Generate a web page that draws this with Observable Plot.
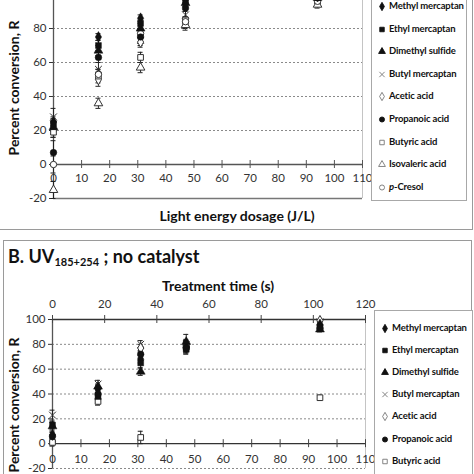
<!DOCTYPE html>
<html>
<head>
<meta charset="utf-8">
<script src="https://cdn.jsdelivr.net/npm/d3@7"></script>
<script src="https://cdn.jsdelivr.net/npm/@observablehq/plot@0.6"></script>
<style>
  body { margin: 0; width: 474px; height: 474px; overflow: hidden; position: relative; background: #fff;
         font-family: Lato, "DejaVu Sans", sans-serif; color: #111; }
  .box { position: absolute; border: 1.5px solid #9a9a9a; box-sizing: border-box; }
  .legend { position: absolute; border: 1px solid #a8a8a8; background: #fff; box-sizing: border-box; }
  .entry { position: absolute; font-weight: 700; font-size: 9.5px; letter-spacing: -0.15px; white-space: nowrap; line-height: 12px; }
  .entry svg { position: absolute; top: 0; }
  .atitle { position: absolute; font-weight: 700; font-size: 14px; white-space: nowrap; transform: translate(-50%, -50%); }
  .ytitle { position: absolute; font-weight: 700; font-size: 14px; white-space: nowrap; transform: translate(-50%, -50%) rotate(-90deg); }
  .ptitle { position: absolute; font-weight: 700; font-size: 18px; white-space: nowrap; }
  .ptitle sub { font-size: 11px; vertical-align: -3px; }
  .plot { position: absolute; }
</style>
</head>
<body>
<script>
// ---- shared axes ----
const dosage = [0, 16, 31, 47, 94];                      // light energy dosage (J/L)
const dosageTicks = [0, 10, 20, 30, 40, 50, 60, 70, 80, 90, 100, 110];
const timeTicks = [0, 20, 40, 60, 80, 100, 120];         // treatment time (s)
const dosageMax = 110, timeMax = 120;
const yTicks = [-20, 0, 20, 40, 60, 80, 100];

const compounds = ["Methyl mercaptan", "Ethyl mercaptan", "Dimethyl sulfide", "Butyl mercaptan",
                   "Acetic acid", "Propanoic acid", "Butyric acid", "Isovaleric acid", "p-Cresol"];
const markerSymbols = ["diamond", "square", "triangle", "times", "diamond", "circle", "square", "triangle", "circle"];
const markerFilled  = [true, true, true, false, false, true, false, false, false];

// ---- panel A: percent conversion R ----
const aMethylMercaptan = [25, 75, 86, 97, 99];
const aEthylMercaptan  = [24, 70, 83, 96, 99];
const aDimethylSulfide = [22, 67, 80, 95, 98];
const aButylMercaptan  = [28, 56, 73, 88, 97];
const aAceticAcid      = [20, 50, 72, 83, 97];
const aPropanoicAcid   = [7, 63, 75, 92, 98];
const aButyricAcid     = [19, 52, 63, 85, 96];
const aIsovalericAcid  = [-15, 36, 57, 82, 94];
const aPCresol         = [0, 53, 77, 84, 96];
const aErrors = [
  [3, 2, 2, 2, 1], [3, 3, 2, 2, 1], [4, 3, 3, 2, 1], [5, 4, 3, 3, 1], [4, 4, 3, 3, 1],
  [7, 3, 3, 2, 1], [3, 4, 3, 2, 1], [5, 3, 3, 3, 2], [5, 3, 3, 2, 1]
];

// ---- panel B: UV185+254, no catalyst ----
const bMethylMercaptan = [7, 44, 68, 78, 96];
const bEthylMercaptan  = [15, 38, 65, 76, 94];
const bDimethylSulfide = [14, 46, 58, 82, 92];
const bButylMercaptan  = [23, 48, 80, 80, 98];
const bAceticAcid      = [2, 36, 77, 79, 99];
const bPropanoicAcid   = [6, 40, 72, 77, 93];
const bButyricAcid     = [1, 34, 5, 78, 37];
const bErrors = [
  [3, 3, 3, 5, 2], [3, 3, 4, 4, 2], [3, 2, 3, 6, 2], [4, 3, 3, 4, 1],
  [3, 3, 3, 4, 1], [3, 3, 3, 4, 2], [3, 3, 5, 4, 2]
];

const aSeries = [aMethylMercaptan, aEthylMercaptan, aDimethylSulfide, aButylMercaptan, aAceticAcid,
                 aPropanoicAcid, aButyricAcid, aIsovalericAcid, aPCresol];
const bSeries = [bMethylMercaptan, bEthylMercaptan, bDimethylSulfide, bButylMercaptan, bAceticAcid,
                 bPropanoicAcid, bButyricAcid];

function rows(series, errors) {
  const out = [];
  series.forEach((vals, i) => vals.forEach((v, j) => out.push({
    compound: compounds[i], x: dosage[j], y: v, e: errors[i][j],
    symbol: markerSymbols[i], filled: markerFilled[i]
  })));
  return out;
}

function dataMarks(data) {
  return [
    Plot.ruleX(data, {x: "x", y1: d => d.y - d.e, y2: d => d.y + d.e, stroke: "#222", strokeWidth: 1}),
    Plot.ruleY(data, {y: d => d.y - d.e, x1: "x", x2: "x", insetLeft: -2.5, insetRight: -2.5, stroke: "#222"}),
    Plot.ruleY(data, {y: d => d.y + d.e, x1: "x", x2: "x", insetLeft: -2.5, insetRight: -2.5, stroke: "#222"}),
    Plot.dot(data.filter(d => !d.filled), {x: "x", y: "y", symbol: "symbol", r: 3.2, fill: "#fff", stroke: "#333", strokeWidth: 1}),
    Plot.dot(data.filter(d => d.filled), {x: "x", y: "y", symbol: "symbol", r: 3.3, fill: "#111", stroke: "#111", strokeWidth: 0.5})
  ];
}

const axisStyle = {fontFamily: "Lato, sans-serif", fontSize: "11.5px", color: "#333", background: "transparent", overflow: "visible"};
const plain = d => String(d);

function place(el, left, top) {
  el.classList.add("plot");
  el.style.left = left + "px";
  el.style.top = top + "px";
  document.body.appendChild(el);
}

function div(cls, html, css) {
  const d = document.createElement("div");
  d.className = cls;
  d.innerHTML = html;
  Object.assign(d.style, css);
  document.body.appendChild(d);
  return d;
}

function legend(left, top, width, height, firstY, step, symX, textX) {
  div("legend", "", {left: left + "px", top: top + "px", width: width + "px", height: height + "px"});
  compounds.forEach((name, i) => {
    const y = firstY + i * step;
    if (y > 468) return;
    const label = name === "p-Cresol" ? "<i>p</i>-Cresol" : name;
    const e = div("entry", label, {left: textX + "px", top: (y - 6) + "px"});
    const type = {diamond: d3.symbolDiamond, square: d3.symbolSquare, triangle: d3.symbolTriangle,
                  times: d3.symbolTimes, circle: d3.symbolCircle}[markerSymbols[i]];
    const path = d3.symbol(type, 20)();
    const svg = d3.create("svg").attr("width", 10).attr("height", 12)
      .style("left", (symX - textX - 5) + "px");
    svg.append("path").attr("transform", "translate(5,6.5)").attr("d", path)
      .attr("fill", markerFilled[i] ? "#111" : "#fff")
      .attr("stroke", markerFilled[i] ? "#111" : "#777").attr("stroke-width", 0.9);
    e.appendChild(svg.node());
  });
}

// ---------- Panel A frame ----------
div("box", "", {left: "-3px", top: "-10px", width: "476px", height: "240px"});

const plotA = Plot.plot({
  width: 370, height: 260,
  marginLeft: 53, marginRight: 8, marginTop: 24, marginBottom: 32,
  x: {domain: [0, dosageMax], axis: null},
  y: {domain: [-20, 100], ticks: yTicks.filter(t => t < 100), tickFormat: plain, tickSize: 4, tickPadding: 3, label: null},
  style: axisStyle,
  marks: [
    Plot.ruleY([20, 40, 60, 80, 100], {stroke: "#8a8a8a", strokeDasharray: "2,2"}),
    Plot.ruleY([-20], {stroke: "#777", strokeWidth: 1.3}),
    Plot.ruleX([dosageMax], {stroke: "#c4c4c4"}),
    Plot.ruleX([0], {stroke: "#555", strokeWidth: 1.3}),
    Plot.ruleY([0], {stroke: "#555", strokeWidth: 1.3}),
    Plot.ruleX(dosageTicks, {x: d => d, y1: 0, y2: 0, insetTop: -4, insetBottom: -4, stroke: "#555"}),
    Plot.text(dosageTicks, {x: d => d, y: 0, dy: 14, text: plain, fill: "#333"}),
    ...dataMarks(rows(aSeries, aErrors))
  ]
});
place(plotA, 0, -30);

div("atitle", "Light energy dosage (J/L)", {left: "237px", top: "215px"});
div("ytitle", "Percent conversion, R", {left: "13px", top: "88px"});
legend(371, -10, 96, 211, 6, 22.6, 382, 389);

// ---------- Panel B frame ----------
div("box", "", {left: "3px", top: "240px", width: "469px", height: "260px"});
div("ptitle", "B. UV<sub>185+254</sub> ; no catalyst", {left: "8px", top: "245px"});
div("atitle", "Treatment time (s)", {left: "218px", top: "285px"});

const plotB = Plot.plot({
  width: 380, height: 190,
  marginLeft: 52, marginRight: 15, marginTop: 29, marginBottom: 12,
  x: {domain: [0, dosageMax], axis: null},
  y: {domain: [-20, 100], ticks: yTicks, tickFormat: plain, tickSize: 4, tickPadding: 3, label: null},
  style: axisStyle,
  marks: [
    Plot.ruleY([-20, 20, 40, 60, 80], {stroke: "#8a8a8a", strokeDasharray: "2,2"}),
    Plot.ruleX([dosageMax], {stroke: "#c4c4c4"}),
    Plot.ruleX([0], {stroke: "#555", strokeWidth: 1.3}),
    Plot.ruleY([0], {stroke: "#333", strokeWidth: 1.3}),
    Plot.ruleY([100], {stroke: "#333", strokeWidth: 1.3}),
    Plot.ruleX(dosageTicks, {x: d => d, y1: 0, y2: 0, insetTop: -4, insetBottom: -4, stroke: "#444"}),
    Plot.text(dosageTicks, {x: d => d, y: 0, dy: 16, text: plain, fill: "#333"}),
    Plot.ruleX(timeTicks, {x: t => t * dosageMax / timeMax, y1: 100, y2: 100, insetTop: -4, insetBottom: -4, stroke: "#444"}),
    Plot.text(timeTicks, {x: t => t * dosageMax / timeMax, y: 100, dy: -15, text: plain, fill: "#333"}),
    ...dataMarks(rows(bSeries, bErrors))
  ]
});
place(plotB, 0, 290);

div("ytitle", "Percent conversion, R", {left: "13px", top: "405px"});
legend(374, 310, 99, 200, 328, 22.1, 385, 392);
</script>
</body>
</html>
